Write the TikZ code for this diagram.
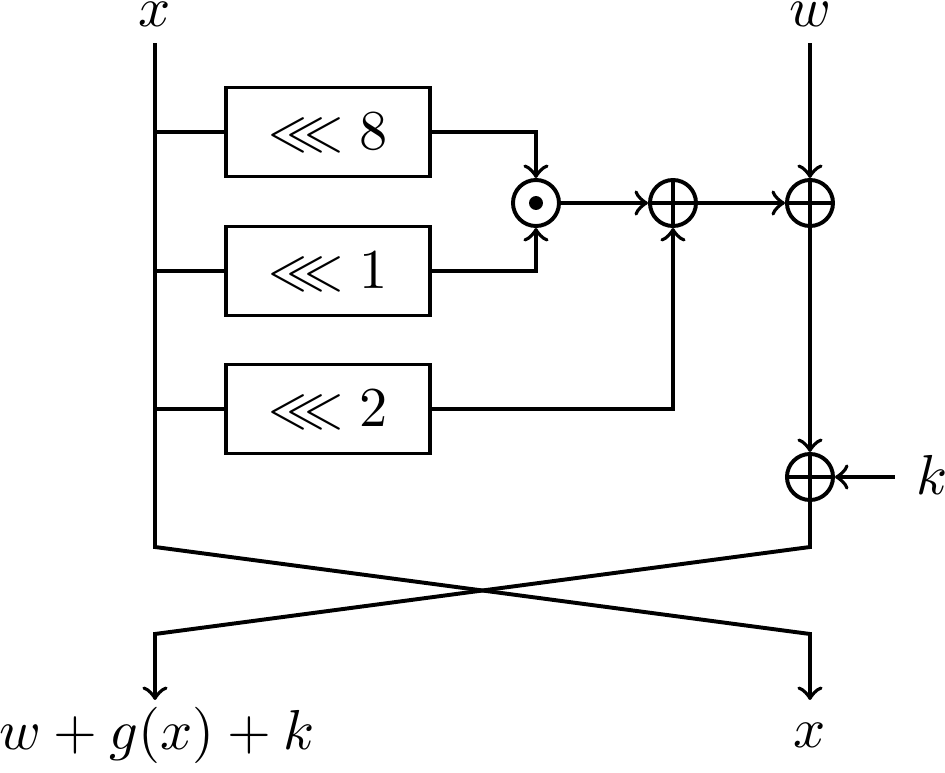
\documentclass[tikz,border=0pt]{standalone}
\usepackage{amssymb}
\begin{document}
\begin{tikzpicture}[x=0.1775pt,y=-0.1775pt, line width=0.7pt, >=to,
  opbox/.style={draw, minimum width=36.2pt, minimum height=15.8pt, inner sep=0pt},
  opc/.style={draw, circle, minimum size=8.17pt, inner sep=0pt},
  xorc/.style={opc, path picture={\draw (path picture bounding box.north) -- (path picture bounding box.south) (path picture bounding box.west) -- (path picture bounding box.east);}},
  andc/.style={opc, path picture={\fill (path picture bounding box.center) circle[radius=1.24pt];}},
  lbl/.style={inner sep=0pt, anchor=base}]
\useasboundingbox (0,0) rectangle (945,773);
% labels
\node[lbl] (xin) at (155,26) {$x$};
\node[lbl] (win) at (810,26) {$w$};
\node[lbl] (kl) at (932,495) {$k$};
\node[lbl] (outl) at (157,750) {$w+g(x)+k$};
\node[lbl] (outr) at (810,748) {$x$};
% coordinates
\coordinate (xtop) at (155,43);
\coordinate (xbot) at (155,547);
\coordinate (wtop) at (810,43);
\coordinate (wbot) at (810,547);
\coordinate (lcross) at (155,634);
\coordinate (rcross) at (810,634);
\coordinate (lout) at (155,700);
\coordinate (rout) at (810,700);
\coordinate (kin) at (895,477);
% boxes
\node[opbox] (b8) at (328,132) {$\lll 8$};
\node[opbox] (b1) at (328,271) {$\lll 1$};
\node[opbox] (b2) at (328,409) {$\lll 2$};
% operators
\node[andc] (andn) at (536,203) {};
\node[xorc] (xor1) at (673,203) {};
\node[xorc] (xor2) at (810,203) {};
\node[xorc] (xor3) at (810,477) {};
% main lines
\draw[->] (xtop) -- (xbot) -- (rcross) -- (rout);
\draw[->] (wtop) -- (xor2);
\draw[->] (xor2) -- (xor3);
\draw[->] (xor3.south) -- (wbot) -- (lcross) -- (lout);
% branches
\draw (xtop |- b8) -- (b8.west);
\draw (xtop |- b1) -- (b1.west);
\draw (xtop |- b2) -- (b2.west);
\draw[->] (b8.east) -| (andn.north);
\draw[->] (b1.east) -| (andn.south);
\draw[->] (andn) -- (xor1);
\draw[->] (b2.east) -| (xor1.south);
\draw[->] (xor1) -- (xor2);
\draw[->] (kin) -- (xor3);
\end{tikzpicture}
\end{document}
